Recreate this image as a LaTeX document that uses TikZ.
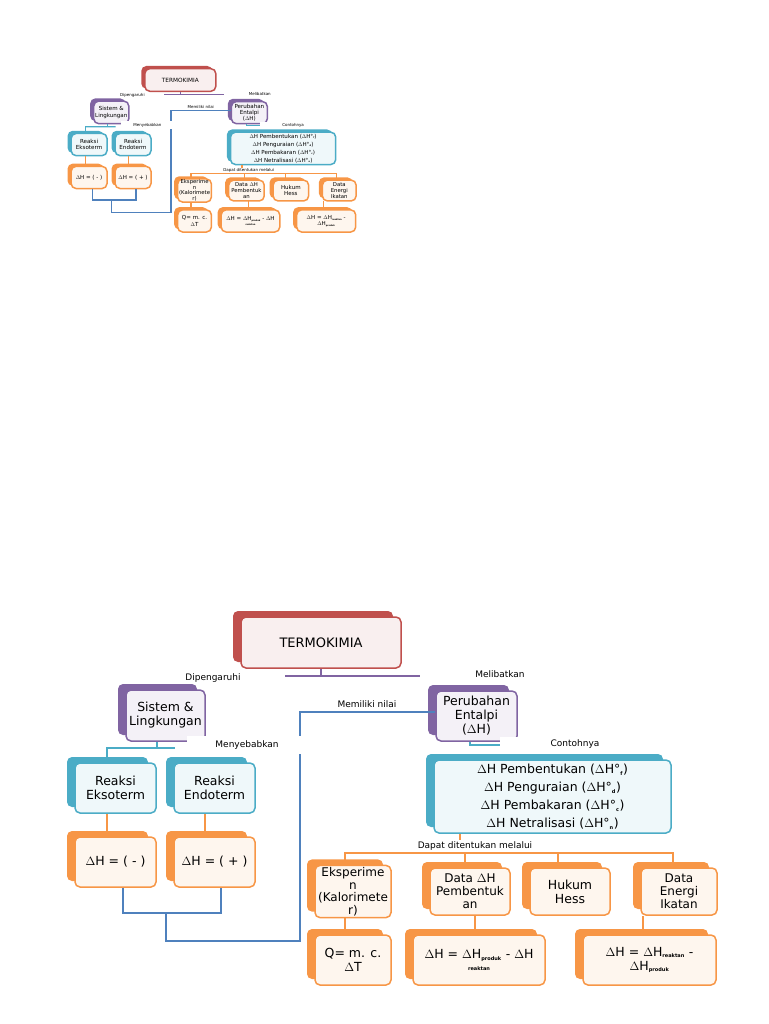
\documentclass[tikz,border=0pt]{standalone}
\usepackage{fontspec}
\setmainfont{DejaVu Sans}
\usetikzlibrary{shadows}

\definecolor{kred}{RGB}{192,80,77}
\definecolor{kpurple}{RGB}{128,100,162}
\definecolor{kblue}{RGB}{75,172,198}
\definecolor{korange}{RGB}{247,150,70}
\definecolor{kline}{RGB}{79,129,189}

\def\kshs{1}
\tikzset{
  box/.style={draw=#1,line width=1.5pt,rounded corners=5pt,fill=#1!9,
    align=center,font=\fontsize{12.5}{14}\selectfont,inner sep=2pt,
    copy shadow={shadow xshift=-8pt*\kshs,shadow yshift=6pt*\kshs,fill=#1,draw=none}},
  lbl/.style={font=\fontsize{9}{10}\selectfont,fill=white,inner sep=1.5pt},
  con/.style={line width=1.2pt,draw=#1}
}
\newcommand\subtxt[1]{$_{\mbox{\tiny\bfseries #1}}$}

% the whole map, #1 is a name prefix
\newcommand\termomap[1]{
  \node[box=kred,minimum width=160pt,minimum height=51pt,font=\fontsize{13}{15}\selectfont] (#1top) at (321,642.5) {TERMOKIMIA};
  \node[box=kpurple,minimum width=79pt,minimum height=51pt] (#1sis) at (165.5,715.5) {Sistem \&\\Lingkungan};
  \node[box=kpurple,minimum width=81pt,minimum height=50pt] (#1per) at (476.5,716) {Perubahan\\Entalpi\\($\Delta$H)};
  \node[box=kblue,minimum width=81pt,minimum height=50pt] (#1rex) at (115.5,788) {Reaksi\\Eksoterm};
  \node[box=kblue,minimum width=81pt,minimum height=50pt] (#1ren) at (214.5,788) {Reaksi\\Endoterm};
  \node[box=korange,minimum width=81pt,minimum height=50pt] (#1dhm) at (115.5,862) {$\Delta$H = ( - )};
  \node[box=korange,minimum width=81pt,minimum height=50pt] (#1dhp) at (214.5,862) {$\Delta$H = ( + )};
  \node[box=kblue,minimum width=237pt,minimum height=73pt,font=\fontsize{12.5}{18}\selectfont] (#1lst) at (552.5,796.5)
    {$\Delta$H Pembentukan ($\Delta$H°\subtxt{f})\\$\Delta$H Penguraian ($\Delta$H°\subtxt{d})\\$\Delta$H Pembakaran ($\Delta$H°\subtxt{c})\\$\Delta$H Netralisasi ($\Delta$H°\subtxt{n})};
  \node[box=korange,minimum width=76pt,minimum height=47pt,font=\fontsize{12}{12.5}\selectfont] (#1eks) at (353,891.5) {Eksperime\\n\\(Kalorimete\\r)};
  \node[box=korange,minimum width=80pt,minimum height=47pt,font=\fontsize{12}{13}\selectfont] (#1dat) at (470,891.5) {Data $\Delta$H\\Pembentuk\\an};
  \node[box=korange,minimum width=80pt,minimum height=47pt] (#1huk) at (570,891.5) {Hukum\\Hess};
  \node[box=korange,minimum width=76pt,minimum height=47pt,font=\fontsize{12}{13}\selectfont] (#1ene) at (679,891.5) {Data\\Energi\\Ikatan};
  \node[box=korange,minimum width=76pt,minimum height=50pt] (#1q) at (353,960) {Q= m. c.\\$\Delta$T};
  \node[box=korange,minimum width=132pt,minimum height=50pt] (#1fp) at (479,960) {$\Delta$H = $\Delta$H\subtxt{produk} - $\Delta$H\\[-2pt]{\tiny\bfseries reaktan}};
  \node[box=korange,minimum width=133pt,minimum height=50pt] (#1fr) at (649.5,960) {$\Delta$H = $\Delta$H\subtxt{reaktan} -\\$\Delta$H\subtxt{produk}};
  % lines
  \coordinate (#1pl) at (285,676);
  \coordinate (#1pr) at (420,676);
  \draw[con=kpurple] (#1top.south) -- (#1top.south |- #1pl) (#1pl) -- (#1pr);
  \coordinate (#1sj) at (107,748);
  \draw[con=kblue] (#1sis.south -| 157,0) |- (#1sj) -- (#1rex.north -| #1sj);
  \draw[con=kblue] (#1sj) -- (175,748);
  \draw[con=korange] (#1rex.south -| 107,0) -- (#1dhm.north -| 107,0);
  \draw[con=korange] (#1ren.south -| 205,0) -- (#1dhp.north -| 205,0);
  \coordinate (#1bk) at (166,913);
  \draw[con=kline] (#1dhm.south -| 123,0) |- (#1bk) -| (#1dhp.south -| 221,0);
  \draw[con=kline] (#1bk) |- (300,941) |- (#1per.west |- 0,712);
  \draw[con=kblue] (#1per.south -| 470,0) |- (500,745);
  \coordinate (#1oj) at (460,853);
  \draw[con=korange] (#1lst.south -| #1oj) -- (#1oj);
  \draw[con=korange] (#1eks.north -| 345,0) |- (#1oj) -| (#1ene.north -| 673,0);
  \draw[con=korange] (#1oj) -| (#1dat.north -| 465,0);
  \draw[con=korange] (#1oj) -| (#1huk.north -| 558,0);
  \draw[con=korange] (#1eks.south -| 345,0) -- (#1q.north -| 345,0);
  \draw[con=korange] (#1dat.south -| 475,0) -- (#1fp.north -| 475,0);
  \draw[con=korange] (#1ene.south -| 643,0) -- (#1fr.north -| 643,0);
  % labels
  \node[lbl] (#1l1) at (213,678) {Dipengaruhi};
  \node[lbl] (#1l2) at (500,674) {Melibatkan};
  \node[lbl] (#1l3) at (367,704) {Memiliki nilai};
  \node[lbl,minimum width=120pt,minimum height=18pt] (#1l4) at (247,745) {Menyebabkan};
  \node[lbl,minimum width=150pt,minimum height=14pt] (#1l5) at (575,744) {Contohnya};
  \node[lbl] (#1l6) at (475,846) {Dapat ditentukan melalui};
}

\begin{document}
\begin{tikzpicture}[x=1pt,y=-1pt]
  \useasboundingbox (0,0) rectangle (768,1024);
  \termomap{b}
  \begin{scope}[shift={(37.8,-205.3)},scale=0.444,transform shape]
    \def\kshs{0.444}
    \termomap{s}
  \end{scope}
\end{tikzpicture}
\end{document}
